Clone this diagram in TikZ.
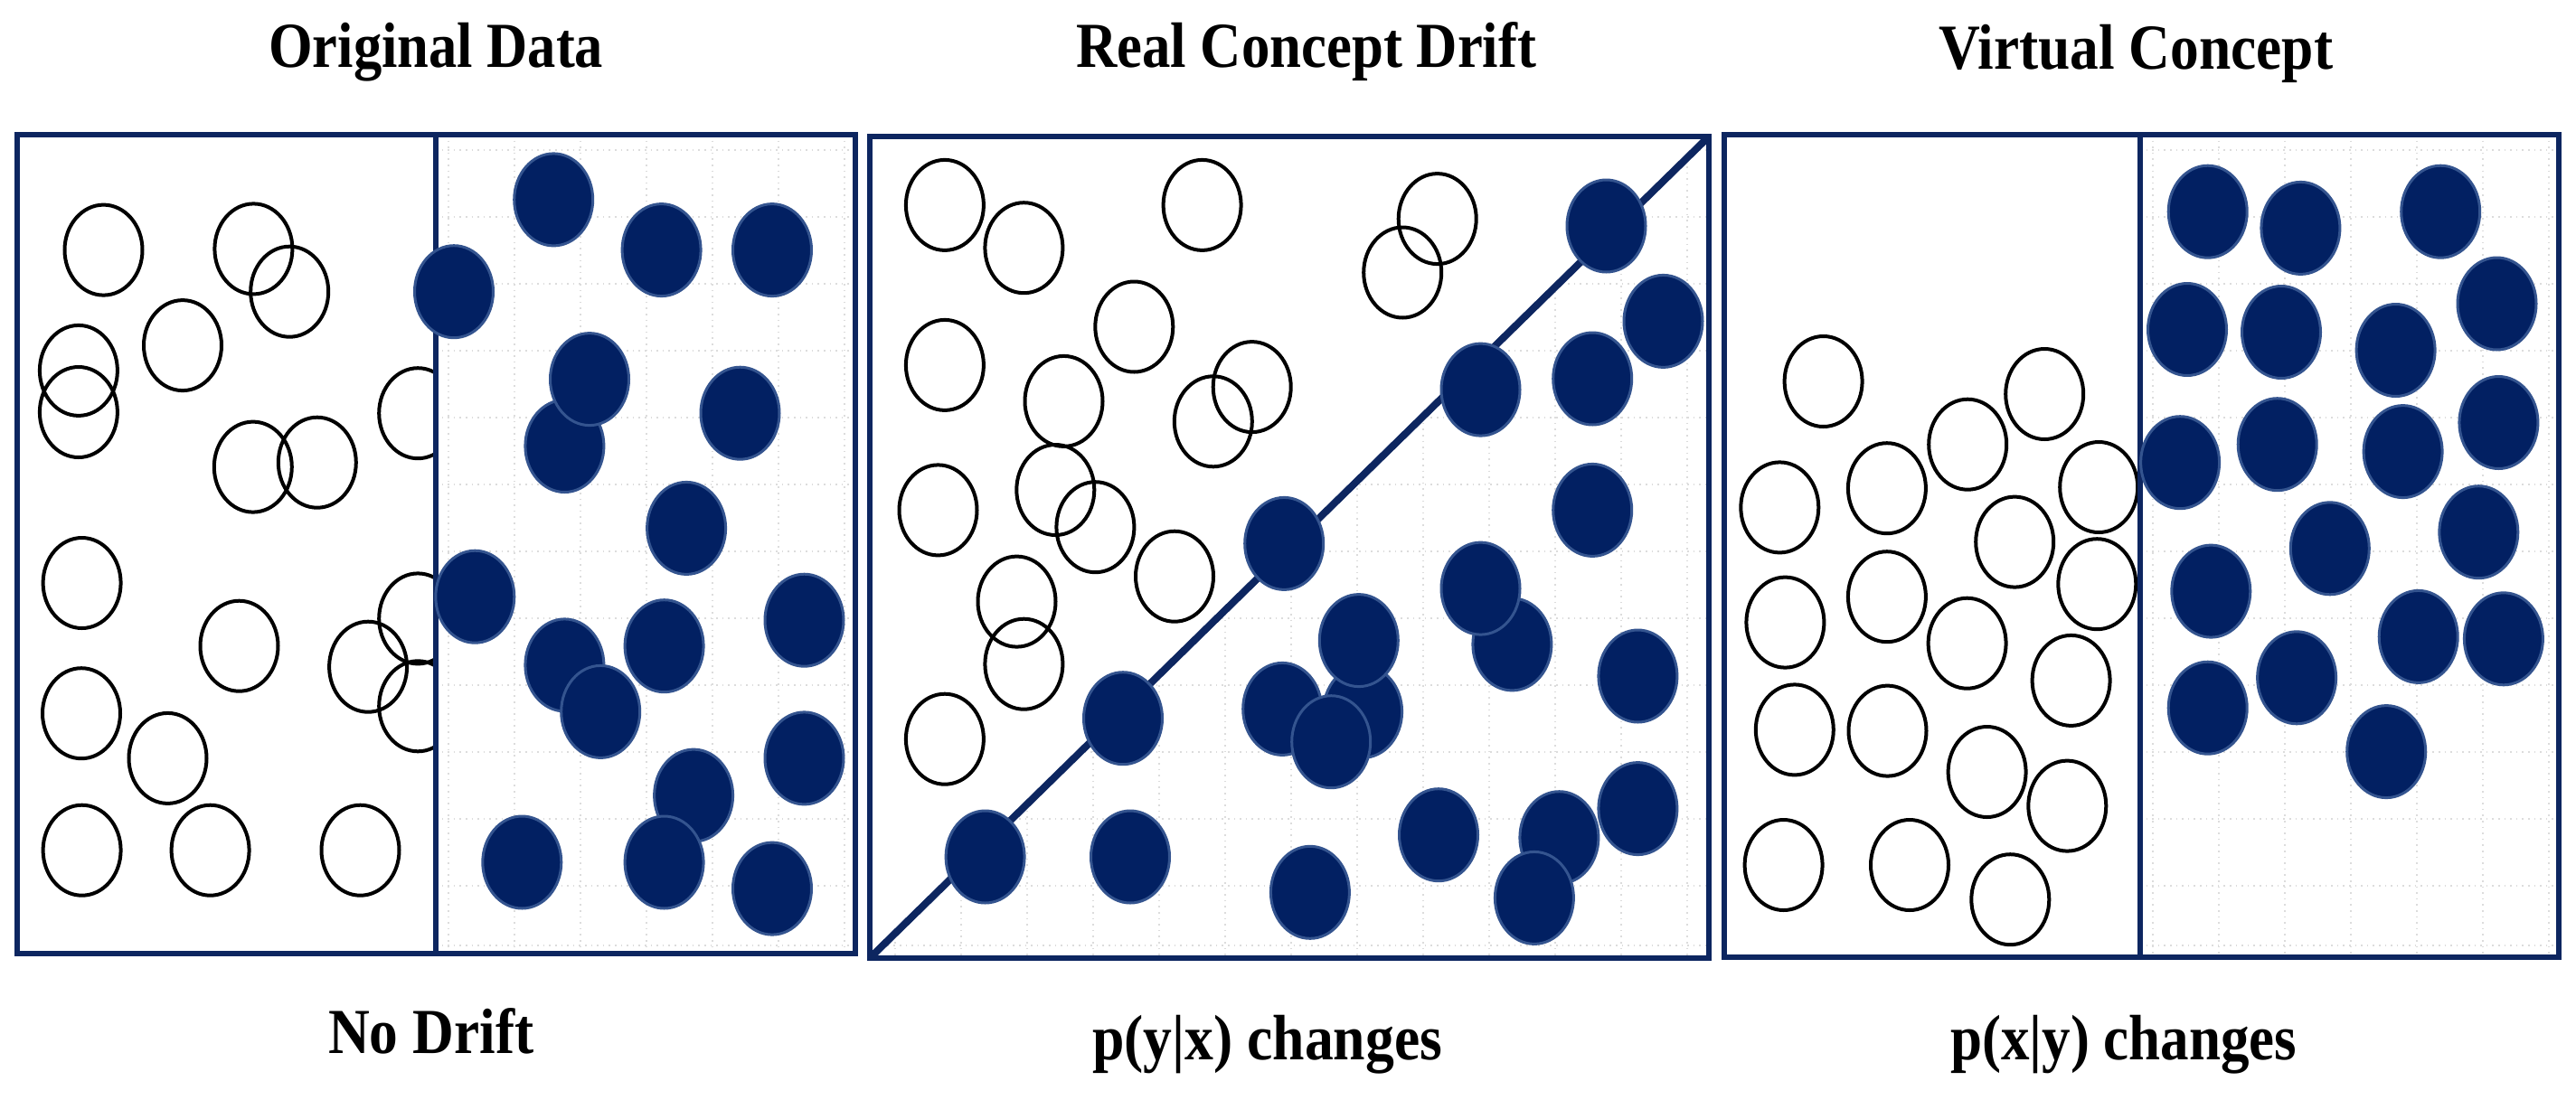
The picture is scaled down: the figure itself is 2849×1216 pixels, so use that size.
\documentclass[tikz,border=0pt]{standalone}
\usepackage{fontspec}
\setmainfont{Liberation Serif}
\usepackage{graphicx}
\definecolor{navy}{HTML}{022062}
\definecolor{rim}{HTML}{34548F}
\definecolor{framec}{HTML}{0D2660}
\definecolor{dotc}{HTML}{DCDCDC}
\tikzset{
  hol/.style={draw=black, line width=4pt},
  fil/.style={fill=navy, draw=rim, line width=3pt},
  frame/.style={draw=framec, line width=5.5pt},
  bg/.style={draw=dotc, line width=1.6pt, dash pattern=on 1.6pt off 5pt},
  lbl/.style={inner sep=0pt, anchor=base west, font=\fontsize{71pt}{80pt}\selectfont\bfseries}
}
\begin{document}
\begin{tikzpicture}[x=1pt,y=-1pt]
\useasboundingbox (0,0) rectangle (2849,1216);
\fill[white] (0,0) rectangle (2849,1216);

% ---------- titles ----------
\node[lbl] (t1) at (297,74) {\resizebox{370pt}{\height}{Original Data}};
\node[lbl] (t2) at (1190,74) {\resizebox{509pt}{\height}{Real Concept Drift}};
\node[lbl] (t3) at (2144,76) {\resizebox{436pt}{\height}{Virtual Concept}};
\node[lbl] (b1) at (363,1165) {\resizebox{227pt}{\height}{No Drift}};
\node[lbl] (b2) at (1208,1172) {\resizebox{387pt}{\height}{p(y|x) changes}};
\node[lbl] (b3) at (2157,1172) {\resizebox{383pt}{\height}{p(x|y) changes}};

% ---------- panel 1 ----------
\begin{scope}
\clip (482,149) rectangle (946,1055);
\foreach \yy in {166,240,314,388,462,536,610,684,758,832,906,980,1046} \draw[bg] (482,\yy) -- (946,\yy);
\foreach \xx in {496,569,642,715,788,861,934} \draw[bg] (\xx,149) -- (\xx,1055);
\end{scope}
\begin{scope}
\clip (19,149) rectangle (482,1055);
\foreach \x/\y in {114.5/276.6,280.4/275.4,320.2/322.7,202/382.1,86.9/409.9,86.9/456,462.2/457.2,279.8/516.6,350.8/511.7,90.6/645,264.5/714.7,462.2/684.4,407.1/737.7,462.2/781.3,90/789.2,185.5/838.9,90.6/940.7,232.6/940.7,398.5/940.7}
  \draw[hol] (\x,\y) ellipse [x radius=43pt, y radius=50pt];
\end{scope}
\draw[frame] (19,149) rectangle (946,1055);
\draw[frame] (482,149) -- (482,1055);
\foreach \x/\y in {612.2/220.9,731.6/276.6,854/276.6,502/322.7,624.4/493.5,652/419.6,818.5/457.2,759.1/584.4,525.3/660.2,624.4/735.9,734.6/714.7,889.5/686.2,664.2/787.4,889.5/838.9,767.1/880.1,577.3/954,734.6/954,854/983.1}
  \draw[fil] (\x,\y) ellipse [x radius=43.5pt, y radius=51pt];

% ---------- panel 2 ----------
\begin{scope}
\clip (962,1060) -- (1890,151) -- (1890,1060) -- cycle;
\foreach \yy in {166,240,314,388,462,536,610,684,758,832,906,980,1046} \draw[bg] (962,\yy) -- (1890,\yy);
\foreach \xx in {990,1063,1136,1209,1282,1355,1428,1501,1574,1647,1720,1793,1866} \draw[bg] (\xx,151) -- (\xx,1060);
\end{scope}
\foreach \x/\y in {1044.9/226.9,1132.4/274.2,1329.6/226.9,1589.7/242.1,1551.2/301.5,1254.3/361.5,1044.9/403.9,1176.5/443.9,1384.7/428.1,1341.8/466.3,1037.5/564.4,1167.3/542,1211.4/583.2,1299/637.7,1124.5/665.6,1132.4/734.7,1044.9/817.7}
  \draw[hol] (\x,\y) ellipse [x radius=43pt, y radius=50pt];
\draw[frame] (962,151) rectangle (1890,1060);
\coordinate (dl) at (962,1060);
\coordinate (dr) at (1890,151);
\draw[draw=framec, line width=8pt] (dl) -- (dr);
\foreach \x/\y in {1776.5/250,1839.5/355.4,1637.5/431.1,1761.2/419,1761.2/564.4,1420.2/601.4,1672.4/712.9,1637.5/651.1,1507.1/787.4,1502.8/708.6,1811.4/748,1242/794.7,1418.2/784.4,1472.2/820.7,1089.6/948,1250/948,1448.9/987.3,1591/923.7,1724.4/926.7,1696.9/993.4,1811.4/894.6}
  \draw[fil] (\x,\y) ellipse [x radius=43.5pt, y radius=51pt];

% ---------- panel 3 ----------
\begin{scope}
\clip (2367,149) rectangle (2830,1059);
\foreach \yy in {166,240,314,388,462,536,610,684,758,832,906,980,1046} \draw[bg] (2367,\yy) -- (2830,\yy);
\foreach \xx in {2381,2454,2527,2600,2673,2746,2819} \draw[bg] (\xx,149) -- (\xx,1059);
\end{scope}
\foreach \x/\y in {2016.6/422,2261.2/436,2176.2/491.7,2086.9/540.2,1968.3/561.4,2321.2/539,2228.2/599.6,2319.3/646.2,1974.4/688.6,2086.9/660.2,2175.6/711.7,2290.6/752.9,1984.8/807.4,2087.5/808.6,2197.6/854,2286.3/891.6,1972.6/957,2112/957,2223.3/995.2}
  \draw[hol] (\x,\y) ellipse [x radius=43pt, y radius=50pt];
\draw[frame] (1907,149) rectangle (2830,1059);
\draw[frame] (2367,149) -- (2367,1059);
\foreach \x/\y in {2441.7/234.2,2544.4/252.4,2699.2/234.2,2419/364.5,2523/367.5,2649.6/387.5,2761.5/336,2411.1/511.7,2518.7/491.7,2657.6/499.6,2763.4/467.5,2576.8/606.8,2741.3/588.7,2445.3/654.1,2674.7/704.4,2768.9/706.8,2441.7/783.2,2540.1/749.8,2639.2/831.6}
  \draw[fil] (\x,\y) ellipse [x radius=43.5pt, y radius=51pt];
\end{tikzpicture}
\end{document}
